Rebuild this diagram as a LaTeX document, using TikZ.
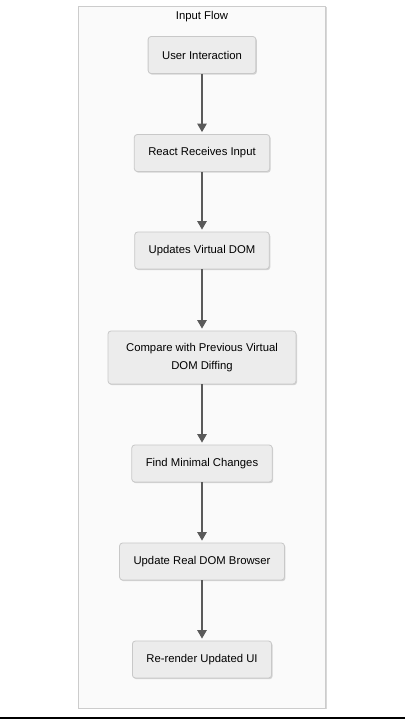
\documentclass[tikz,border=0pt]{standalone}
\usepackage{fontspec}
\setmainfont{Liberation Sans}
\usetikzlibrary{arrows.meta,shadows}
\definecolor{nodefill}{HTML}{ECECEC}
\definecolor{nodeline}{HTML}{C8C8C8}
\definecolor{boxfill}{HTML}{FAFAFA}
\definecolor{boxline}{HTML}{CCCCCC}
\definecolor{arrowcol}{HTML}{5A5A5A}
\tikzset{
  stepbox/.style={draw=nodeline, fill=nodefill, rounded corners=3pt, line width=0.8pt,
    font=\fontsize{11.3}{18}\selectfont, align=center, inner xsep=14pt, inner ysep=0pt,
    minimum height=37pt, drop shadow={shadow xshift=1pt, shadow yshift=-1.2pt, opacity=0.25, fill=black!60}},
  flow/.style={draw=arrowcol, line width=1.2pt, -{Triangle[length=8.5pt,width=9.5pt]}, shorten >=2pt},
}
\begin{document}
\begin{tikzpicture}[x=1pt,y=1pt]
\useasboundingbox (0,0) rectangle (405,720);
\fill[white] (0,0) rectangle (405,720);
% outer group
\node[draw=boxline, fill=boxfill, line width=0.8pt, minimum width=247pt, minimum height=702pt, inner sep=0pt,
  drop shadow={shadow xshift=1pt, shadow yshift=-1.5pt, opacity=0.25, fill=black!60}] (grp) at (202,363) {};
\node[font=\fontsize{11.3}{14}\selectfont] (title) at (202,703.5) {Input Flow};
% nodes
\node[stepbox] (n1) at (202,665) {User Interaction};
\node[stepbox] (n2) at (202,567) {React Receives Input};
\node[stepbox] (n3) at (202,469.5) {Updates Virtual DOM};
\node[stepbox, minimum height=53pt, minimum width=188pt] (n4) at (202,362.5) {Compare with Previous Virtual\\DOM Diffing};
\node[stepbox] (n5) at (202,256.5) {Find Minimal Changes};
\node[stepbox] (n6) at (202,158.5) {Update Real DOM Browser};
\node[stepbox] (n7) at (202,60.5) {Re-render Updated UI};
% connectors
\draw[flow] (n1) -- (n2);
\draw[flow] (n2) -- (n3);
\draw[flow] (n3) -- (n4);
\draw[flow] (n4) -- (n5);
\draw[flow] (n5) -- (n6);
\draw[flow] (n6) -- (n7);
% bottom rule
\coordinate (ruleL) at (0,1.5);
\coordinate (ruleR) at (405,1.5);
\draw[black, line width=2pt] (ruleL) -- (ruleR);
\end{tikzpicture}
\end{document}
